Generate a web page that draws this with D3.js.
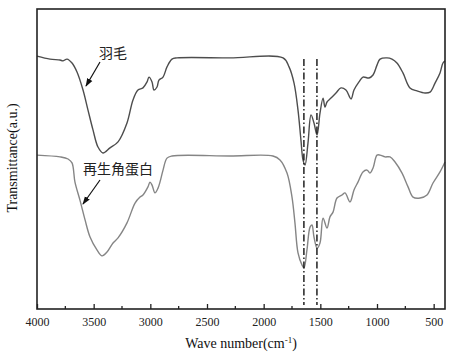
<!DOCTYPE html>
<html>
<head>
<meta charset="utf-8">
<script src="https://cdn.jsdelivr.net/npm/d3@7"></script>
<style>
  body { margin: 0; background: #fff; }
  svg { display: block; }
</style>
</head>
<body>
<figure id="ftir" style="margin:0"></figure>
<script>
// FTIR spectra: feather vs. regenerated keratin (transmittance, a.u.)

// feather (羽毛) - wavenumber / transmittance
const featherWave = [4000, 3885, 3797, 3771, 3735, 3691, 3647, 3594, 3550, 3506, 3462, 3418, 3356, 3285, 3206, 3153,
  3109, 3065, 3029, 3012, 2985, 2968, 2941, 2924, 2888, 2853, 2809, 2765, 2297, 1829, 1776, 1732, 1697, 1671, 1653,
  1635, 1609, 1582, 1556, 1529, 1503, 1476, 1459, 1441, 1406, 1362, 1318, 1274, 1229, 1203, 1159, 1124, 1071, 1035,
  1000, 973, 912, 868, 824, 771, 709, 647, 576, 532, 488, 444, 418, 400];
const featherT = [84.3, 83.3, 83.0, 82.7, 83.3, 82.0, 79.0, 73.0, 66.3, 59.7, 54.0, 52.0, 53.7, 55.7, 62.0, 69.7,
  73.0, 73.7, 75.7, 77.3, 75.7, 73.0, 74.0, 76.3, 77.3, 80.7, 83.3, 83.7, 83.7, 83.7, 80.7, 75.3, 66.3, 56.3, 49.7,
  48.0, 55.3, 64.7, 62.0, 58.0, 65.3, 70.3, 67.3, 69.0, 70.3, 72.0, 73.7, 73.0, 70.0, 73.0, 75.7, 77.3, 77.0, 78.0,
  81.3, 83.3, 83.7, 83.3, 82.0, 78.7, 73.7, 72.7, 72.0, 72.3, 75.3, 78.7, 82.0, 82.7];

// regenerated keratin (再生角蛋白)
const keratinWave = [4000, 3797, 3726, 3691, 3665, 3621, 3576, 3532, 3471, 3426, 3382, 3329, 3285, 3206, 3135, 3091,
  3065, 3021, 3003, 2985, 2959, 2932, 2915, 2888, 2853, 2809, 2297, 1918, 1856, 1794, 1750, 1724, 1697, 1662, 1644,
  1618, 1591, 1574, 1556, 1529, 1503, 1476, 1441, 1415, 1388, 1353, 1309, 1282, 1238, 1203, 1168, 1124, 1088, 1062,
  1035, 1000, 973, 929, 885, 841, 779, 726, 682, 620, 559, 506, 444, 400];
const keratinT = [51.3, 50.7, 50.0, 48.7, 42.3, 36.3, 29.7, 24.0, 19.7, 17.7, 19.0, 22.0, 23.7, 28.7, 35.3, 37.3,
  38.0, 40.7, 42.3, 41.3, 38.7, 40.3, 42.3, 46.3, 50.3, 51.0, 51.0, 51.0, 49.7, 45.3, 37.3, 28.7, 18.7, 14.7, 13.7,
  19.7, 27.3, 28.0, 24.0, 20.3, 22.0, 30.3, 27.0, 30.7, 32.3, 37.0, 38.0, 38.7, 35.7, 39.7, 42.3, 45.7, 46.3, 45.3,
  47.0, 51.3, 51.3, 50.7, 50.7, 49.0, 45.3, 40.7, 37.3, 37.0, 38.0, 42.0, 45.7, 49.0];

const majorTicks = [4000, 3500, 3000, 2500, 2000, 1500, 1000, 500];
const minorTicks = [3750, 3250, 2750, 2250, 1750, 1250, 750];
const markerLines = [1645, 1530];

class SpectraChart {
  constructor() {
    this.width = 452;
    this.height = 361;
    this.left = 37;
    this.right = 445;
    this.top = 9;
    this.bottom = 309;
    this.serif = "'Liberation Serif', 'Times New Roman', serif";
    this.cjk = "'Noto Sans CJK SC', sans-serif";
  }

  init() {
    this.svg = d3.select("figure#ftir").append("svg")
      .attr("width", this.width)
      .attr("height", this.height);
    this.x = d3.scaleLinear().domain([4000, 400]).range([this.left, this.right]);
    this.y = d3.scaleLinear().domain([0, 100]).range([this.bottom, this.top]);

    const defs = this.svg.append("defs");
    defs.append("marker")
      .attr("id", "arrow")
      .attr("viewBox", "0 0 10 10")
      .attr("refX", 9).attr("refY", 5)
      .attr("markerWidth", 7).attr("markerHeight", 7)
      .attr("orient", "auto")
      .append("path")
      .attr("d", "M0,1.5 L10,5 L0,8.5 Z")
      .attr("fill", "#111");
  }

  draw() {
    this.drawSpectrum(featherWave, featherT, "#4d4d4d");
    this.drawSpectrum(keratinWave, keratinT, "#858585");
    this.drawMarkers();
    this.drawAxes();
    this.drawLabels();
  }

  drawSpectrum(wave, trans, color) {
    const line = d3.line()
      .x((d, i) => this.x(wave[i]))
      .y((d) => this.y(d))
      .curve(d3.curveCatmullRom.alpha(0.5));
    this.svg.append("path")
      .attr("d", line(trans))
      .attr("fill", "none")
      .attr("stroke", color)
      .attr("stroke-width", 1.4)
      .attr("stroke-linejoin", "round");
  }

  drawMarkers() {
    this.svg.selectAll("line.marker")
      .data(markerLines).enter()
      .append("line")
      .attr("class", "marker")
      .attr("x1", (d) => this.x(d)).attr("x2", (d) => this.x(d))
      .attr("y1", this.y(83.3)).attr("y2", this.y(1.3))
      .attr("stroke", "#111")
      .attr("stroke-width", 1.4)
      .attr("stroke-dasharray", "7,2.5,1.5,2.5");
  }

  drawAxes() {
    const axis = d3.axisBottom(this.x)
      .tickValues(majorTicks)
      .tickSize(-5)
      .tickPadding(8)
      .tickFormat(d3.format("d"));
    const g = this.svg.append("g")
      .attr("transform", `translate(0,${this.bottom})`)
      .call(axis);
    g.select(".domain").remove();
    g.selectAll(".tick line").attr("stroke", "#222").attr("stroke-width", 1.3);
    g.selectAll(".tick text")
      .attr("fill", "#222")
      .style("font-family", this.serif)
      .style("font-size", "12px");

    g.selectAll("line.minor")
      .data(minorTicks).enter()
      .append("line")
      .attr("class", "minor")
      .attr("x1", (d) => this.x(d)).attr("x2", (d) => this.x(d))
      .attr("y1", 0).attr("y2", -3)
      .attr("stroke", "#222").attr("stroke-width", 1.3);

    this.svg.append("rect")
      .attr("x", this.left).attr("y", this.top)
      .attr("width", this.right - this.left)
      .attr("height", this.bottom - this.top)
      .attr("fill", "none")
      .attr("stroke", "#222")
      .attr("stroke-width", 1.6);
  }

  drawLabels() {
    const xl = this.svg.append("text")
      .attr("x", 241).attr("y", 348)
      .attr("text-anchor", "middle")
      .attr("fill", "#111")
      .style("font-family", this.serif)
      .style("font-size", "14px");
    xl.append("tspan").text("Wave number(cm");
    xl.append("tspan").attr("dy", -5).style("font-size", "9px").text("-1");
    xl.append("tspan").attr("dy", 5).text(")");

    this.svg.append("text")
      .attr("transform", "translate(17,158) rotate(-90)")
      .attr("text-anchor", "middle")
      .attr("fill", "#111")
      .style("font-family", this.serif)
      .style("font-size", "14px")
      .text("Transmittance(a.u.)");

    this.addNote("羽毛", 113, 58, [100, 62], [86, 86]);
    this.addNote("再生角蛋白", 118, 174, [100, 180], [83, 204]);
  }

  addNote(label, tx, ty, from, to) {
    this.svg.append("text")
      .attr("x", tx).attr("y", ty)
      .attr("text-anchor", "middle")
      .attr("fill", "#222")
      .style("font-family", this.cjk)
      .style("font-size", "14px")
      .text(label);
    this.svg.append("line")
      .attr("x1", from[0]).attr("y1", from[1])
      .attr("x2", to[0]).attr("y2", to[1])
      .attr("stroke", "#111")
      .attr("stroke-width", 1.2)
      .attr("marker-end", "url(#arrow)");
  }
}

const chart = new SpectraChart();
chart.init();
chart.draw();
</script>
</body>
</html>
